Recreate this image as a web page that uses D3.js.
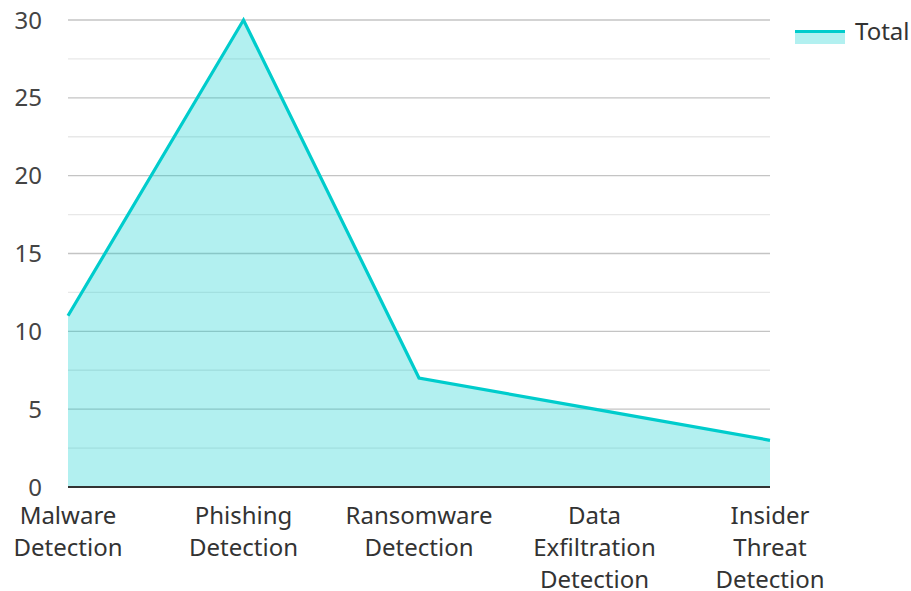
<!DOCTYPE html>
<html><head><meta charset="utf-8">
<script src="https://cdn.jsdelivr.net/npm/d3@7"></script>
<style>body{margin:0;background:#fff;font-family:"Noto Sans","Open Sans",sans-serif;}</style>
</head><body><svg id="c" width="911" height="591"></svg>
<script>
const categories = [["Malware","Detection"],["Phishing","Detection"],["Ransomware","Detection"],["Data","Exfiltration","Detection"],["Insider","Threat","Detection"]];
const values = [11, 30, 7, 5, 3];
const yTicks = [0,5,10,15,20,25,30];
const minorTicks = [2.5,7.5,12.5,17.5,22.5,27.5];
const seriesName = "Total";

(function(){
const svg = d3.select("#c");
const mLeft = 68, mRight = 770, mTop = 20, mBottom = 487;
const x = d3.scalePoint().domain(d3.range(categories.length)).range([mLeft, mRight]);
const y = d3.scaleLinear().domain([0,30]).range([mBottom, mTop]);

svg.append("g").selectAll("line").data(minorTicks).join("line")
  .attr("x1", mLeft).attr("x2", mRight).attr("y1", d=>y(d)).attr("y2", d=>y(d))
  .attr("stroke","#e8e8e8").attr("stroke-width",1.3);
svg.append("g").selectAll("line").data(yTicks.filter(d=>d>0)).join("line")
  .attr("x1", mLeft).attr("x2", mRight).attr("y1", d=>y(d)).attr("y2", d=>y(d))
  .attr("stroke","#c4c4c4").attr("stroke-width",1.3);

const area = d3.area().x((d,i)=>x(i)).y0(y(0)).y1(d=>y(d));
svg.append("path").datum(values).attr("d", area).attr("fill","rgba(0,204,204,0.3)");
const line = d3.line().x((d,i)=>x(i)).y(d=>y(d));
svg.append("path").datum(values).attr("d", line).attr("fill","none").attr("stroke","#00cccc").attr("stroke-width",3.2);

svg.append("line").attr("x1", mLeft).attr("x2", mRight).attr("y1", y(0)).attr("y2", y(0))
  .attr("stroke","#333").attr("stroke-width",2);

svg.append("g").selectAll("text").data(yTicks).join("text")
  .attr("x", 42).attr("y", d=>y(d)+8.5).attr("text-anchor","end")
  .attr("font-size",24).attr("fill","#444").text(d=>d);

const xl = svg.append("g").selectAll("text").data(categories).join("text")
  .attr("text-anchor","middle").attr("font-size",24).attr("fill","#333");
xl.each(function(d,i){
  d3.select(this).selectAll("tspan").data(d).join("tspan")
    .attr("x", x(i)).attr("y", (t,j)=>524 + j*32).text(t=>t);
});

const lg = svg.append("g");
lg.append("rect").attr("x",795).attr("y",30).attr("width",50).attr("height",14).attr("fill","rgba(0,204,204,0.3)");
lg.append("line").attr("x1",795).attr("x2",845).attr("y1",31.5).attr("y2",31.5).attr("stroke","#00cccc").attr("stroke-width",3);
lg.append("text").attr("x",855).attr("y",40).attr("font-size",24).attr("fill","#333").text(seriesName);
})();
</script></body></html>
